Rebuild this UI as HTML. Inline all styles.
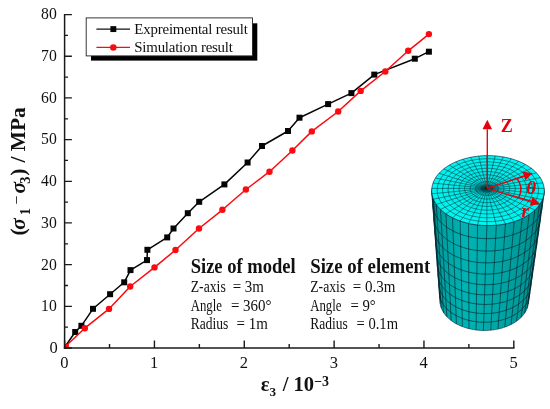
<!DOCTYPE html>
<html><head><meta charset="utf-8"><title>Stress-strain comparison</title>
<style>html,body{margin:0;padding:0;background:#fff}svg{display:block}</style></head>
<body>
<svg width="550" height="409" viewBox="0 0 550 409">
<rect width="550" height="409" fill="#fff"/>
<g font-family="'Liberation Serif',serif" font-size="16.5" fill="#111">
<text x="57.8" y="352.85" text-anchor="end">0</text>
<text x="56.8" y="311.18" text-anchor="end" textLength="15.7" lengthAdjust="spacingAndGlyphs">10</text>
<text x="56.8" y="269.50" text-anchor="end" textLength="15.7" lengthAdjust="spacingAndGlyphs">20</text>
<text x="56.8" y="227.82" text-anchor="end" textLength="15.7" lengthAdjust="spacingAndGlyphs">30</text>
<text x="56.8" y="186.15" text-anchor="end" textLength="15.7" lengthAdjust="spacingAndGlyphs">40</text>
<text x="56.8" y="144.47" text-anchor="end" textLength="15.7" lengthAdjust="spacingAndGlyphs">50</text>
<text x="56.8" y="102.80" text-anchor="end" textLength="15.7" lengthAdjust="spacingAndGlyphs">60</text>
<text x="56.8" y="61.12" text-anchor="end" textLength="15.7" lengthAdjust="spacingAndGlyphs">70</text>
<text x="56.8" y="19.45" text-anchor="end" textLength="15.7" lengthAdjust="spacingAndGlyphs">80</text>
<text x="64.30" y="367.8" text-anchor="middle">0</text>
<text x="154.14" y="367.8" text-anchor="middle">1</text>
<text x="243.98" y="367.8" text-anchor="middle">2</text>
<text x="333.82" y="367.8" text-anchor="middle">3</text>
<text x="423.66" y="367.8" text-anchor="middle">4</text>
<text x="513.50" y="367.8" text-anchor="middle">5</text>
</g>
<text transform="translate(25.2,235.6) rotate(-90)" font-family="'Liberation Serif',serif" font-weight="bold" font-size="21.4" fill="#111"><tspan letter-spacing="0.9">(<tspan font-style="italic" dx="-2.2">σ</tspan><tspan font-size="14.5" dy="4.6" dx="2.2">1</tspan><tspan dy="-7.4" dx="2.2" font-size="16.5" font-weight="normal">−</tspan><tspan font-style="italic" dy="3" dx="1.0">σ</tspan><tspan font-size="14.5" dy="4.6" dx="-2.7">3</tspan><tspan dy="-4.6" dx="-0.2">)</tspan></tspan> / MPa</text>
<text x="260.8" y="391.3" font-family="'Liberation Serif',serif" font-weight="bold" font-size="20.6" fill="#111">ε<tspan font-size="13.2" dy="4.2">3</tspan><tspan dy="-4.2" dx="1.3"> / 10</tspan><tspan font-size="14" dy="-5.2">−3</tspan></text>
<defs>
<linearGradient id="bodyg" gradientUnits="userSpaceOnUse" x1="432" y1="0" x2="545" y2="0"><stop offset="0" stop-color="#006a6a"/><stop offset="0.05" stop-color="#009c9c"/><stop offset="0.3" stop-color="#00b4b4"/><stop offset="0.6" stop-color="#00a6a6"/><stop offset="0.88" stop-color="#009292"/><stop offset="1" stop-color="#007474"/></linearGradient>
<radialGradient id="topg" gradientUnits="userSpaceOnUse" cx="486.9" cy="188.4" r="56" gradientTransform="translate(0,72.1) scale(1,0.617)"><stop offset="0" stop-color="#044"/><stop offset="0.05" stop-color="#0aa"/><stop offset="0.22" stop-color="#00e2e2"/><stop offset="1" stop-color="#00f6f2"/></radialGradient>
</defs>
<path d="M431.69,190.56 L431.80,192.72 L432.13,194.88 L432.67,197.04 L433.43,199.18 L434.41,201.30 L435.60,203.38 L437.02,205.42 L438.64,207.40 L440.47,209.33 L442.51,211.19 L444.74,212.97 L447.16,214.66 L449.76,216.26 L452.53,217.76 L455.46,219.14 L458.54,220.41 L461.76,221.55 L465.10,222.56 L468.55,223.43 L472.10,224.17 L475.72,224.75 L479.41,225.19 L483.14,225.47 L486.90,225.60 L490.67,225.57 L494.43,225.38 L498.16,225.04 L501.85,224.54 L505.48,223.89 L509.03,223.09 L512.49,222.14 L515.83,221.05 L519.04,219.83 L522.12,218.48 L525.03,217.00 L527.78,215.41 L530.34,213.71 L532.71,211.92 L534.88,210.03 L536.84,208.07 L538.58,206.03 L540.10,203.93 L541.39,201.79 L542.44,199.60 L543.27,197.38 L543.85,195.14 L544.20,192.89 L544.32,190.64 L528.54,301.04 L528.45,302.94 L528.18,304.83 L527.72,306.72 L527.07,308.59 L526.24,310.43 L525.23,312.24 L524.03,314.01 L522.67,315.72 L521.13,317.38 L519.42,318.97 L517.55,320.48 L515.54,321.91 L513.38,323.26 L511.09,324.50 L508.67,325.64 L506.15,326.67 L503.52,327.59 L500.80,328.38 L498.01,329.06 L495.16,329.61 L492.26,330.03 L489.32,330.32 L486.36,330.47 L483.40,330.50 L480.44,330.39 L477.51,330.15 L474.61,329.79 L471.76,329.29 L468.98,328.68 L466.26,327.94 L463.64,327.09 L461.10,326.13 L458.68,325.06 L456.38,323.89 L454.20,322.63 L452.15,321.28 L450.25,319.86 L448.50,318.36 L446.90,316.79 L445.46,315.17 L444.18,313.49 L443.07,311.77 L442.13,310.02 L441.36,308.24 L440.76,306.43 L440.33,304.61 L440.08,302.79 L440.00,300.97 Z" fill="url(#bodyg)" stroke="#013" stroke-width="0.5"/>
<path d="M432.73,204.31 L432.91,207.14 L433.48,209.97 L434.42,212.77 L435.74,215.53 L437.43,218.22 L439.49,220.83 L441.91,223.34 L444.68,225.71 L447.78,227.95 L451.19,230.01 L454.89,231.90 L458.86,233.58 L463.07,235.05 L467.48,236.28 L472.06,237.27 L476.78,238.00 L481.59,238.47 L486.46,238.67 L491.35,238.59 L496.22,238.25 L501.02,237.63 L505.71,236.75 L510.26,235.61 L514.62,234.21 L518.77,232.59 L522.65,230.74 L526.25,228.68 L529.54,226.44 L532.49,224.03 L535.07,221.48 L537.29,218.81 L539.11,216.03 L540.53,213.18 L541.54,210.27 L542.15,207.34 L542.35,204.40 M433.71,217.38 L433.89,220.16 L434.44,222.93 L435.36,225.68 L436.64,228.39 L438.29,231.03 L440.30,233.59 L442.65,236.05 L445.35,238.38 L448.37,240.57 L451.69,242.60 L455.30,244.44 L459.16,246.10 L463.26,247.53 L467.56,248.74 L472.02,249.71 L476.61,250.43 L481.30,250.89 L486.05,251.09 L490.81,251.01 L495.55,250.67 L500.23,250.07 L504.80,249.20 L509.23,248.08 L513.48,246.72 L517.51,245.12 L521.30,243.30 L524.80,241.29 L528.00,239.09 L530.88,236.73 L533.40,234.23 L535.55,231.60 L537.32,228.88 L538.71,226.08 L539.70,223.23 L540.29,220.35 L540.49,217.47 M434.64,229.80 L434.82,232.52 L435.35,235.25 L436.25,237.94 L437.50,240.60 L439.11,243.19 L441.06,245.71 L443.36,248.12 L445.99,250.41 L448.93,252.56 L452.17,254.55 L455.69,256.36 L459.45,257.98 L463.44,259.39 L467.63,260.58 L471.98,261.53 L476.46,262.24 L481.03,262.69 L485.66,262.88 L490.30,262.81 L494.92,262.48 L499.47,261.88 L503.93,261.03 L508.25,259.93 L512.39,258.59 L516.32,257.03 L520.01,255.25 L523.43,253.27 L526.55,251.11 L529.35,248.79 L531.80,246.33 L533.90,243.76 L535.63,241.08 L536.98,238.34 L537.94,235.54 L538.52,232.71 L538.71,229.88 M435.53,241.60 L435.70,244.27 L436.22,246.94 L437.09,249.59 L438.32,252.20 L439.88,254.75 L441.79,257.22 L444.03,259.59 L446.60,261.84 L449.47,263.95 L452.62,265.91 L456.05,267.69 L459.73,269.28 L463.62,270.66 L467.70,271.83 L471.95,272.76 L476.31,273.46 L480.77,273.90 L485.28,274.09 L489.81,274.02 L494.31,273.69 L498.76,273.11 L503.10,272.27 L507.31,271.19 L511.35,269.88 L515.19,268.34 L518.79,266.59 L522.12,264.64 L525.16,262.53 L527.89,260.25 L530.29,257.83 L532.34,255.30 L534.02,252.68 L535.34,249.98 L536.28,247.23 L536.84,244.46 L537.03,241.68 M436.37,252.80 L436.54,255.43 L437.05,258.06 L437.90,260.66 L439.09,263.23 L440.62,265.73 L442.48,268.16 L444.67,270.48 L447.17,272.70 L449.97,274.77 L453.06,276.69 L456.40,278.44 L459.99,280.01 L463.79,281.37 L467.77,282.52 L471.91,283.43 L476.17,284.11 L480.52,284.55 L484.93,284.74 L489.35,284.67 L493.74,284.35 L498.08,283.77 L502.32,282.95 L506.43,281.89 L510.37,280.60 L514.11,279.08 L517.62,277.36 L520.88,275.45 L523.85,273.37 L526.51,271.13 L528.85,268.76 L530.85,266.27 L532.49,263.69 L533.78,261.04 L534.69,258.34 L535.24,255.61 L535.43,252.88 M437.17,263.45 L437.34,266.03 L437.83,268.62 L438.66,271.18 L439.83,273.70 L441.32,276.16 L443.14,278.55 L445.28,280.84 L447.72,283.01 L450.45,285.05 L453.47,286.94 L456.73,288.66 L460.23,290.20 L463.94,291.54 L467.84,292.67 L471.88,293.57 L476.04,294.24 L480.29,294.67 L484.59,294.85 L488.90,294.78 L493.20,294.47 L497.43,293.90 L501.57,293.10 L505.59,292.05 L509.44,290.78 L513.09,289.29 L516.52,287.60 L519.70,285.72 L522.60,283.67 L525.20,281.47 L527.48,279.14 L529.43,276.70 L531.04,274.16 L532.29,271.55 L533.19,268.90 L533.73,266.21 L533.90,263.52 M437.93,273.56 L438.10,276.11 L438.58,278.65 L439.39,281.17 L440.53,283.65 L441.99,286.07 L443.77,288.42 L445.85,290.67 L448.24,292.81 L450.91,294.82 L453.85,296.68 L457.05,298.37 L460.47,299.88 L464.09,301.20 L467.90,302.31 L471.85,303.20 L475.92,303.86 L480.07,304.28 L484.27,304.46 L488.49,304.39 L492.68,304.08 L496.82,303.53 L500.87,302.73 L504.79,301.71 L508.55,300.45 L512.12,298.99 L515.47,297.33 L518.58,295.48 L521.41,293.46 L523.95,291.30 L526.18,289.00 L528.09,286.60 L529.66,284.10 L530.89,281.53 L531.76,278.92 L532.29,276.28 L532.46,273.64 M438.66,283.17 L438.81,285.67 L439.29,288.18 L440.08,290.66 L441.19,293.10 L442.62,295.48 L444.36,297.80 L446.40,300.01 L448.73,302.12 L451.35,304.10 L454.22,305.93 L457.35,307.59 L460.69,309.08 L464.24,310.38 L467.96,311.47 L471.82,312.35 L475.80,313.00 L479.86,313.41 L483.96,313.59 L488.09,313.52 L492.19,313.22 L496.24,312.67 L500.19,311.89 L504.03,310.88 L507.71,309.64 L511.20,308.20 L514.48,306.57 L517.51,304.75 L520.28,302.76 L522.77,300.63 L524.95,298.37 L526.81,296.00 L528.35,293.54 L529.55,291.02 L530.40,288.45 L530.92,285.85 L531.09,283.24 M439.34,292.30 L439.50,294.76 L439.96,297.23 L440.74,299.67 L441.82,302.08 L443.22,304.43 L444.92,306.70 L446.92,308.89 L449.20,310.96 L451.76,312.91 L454.58,314.71 L457.63,316.36 L460.90,317.82 L464.37,319.10 L468.01,320.18 L471.79,321.04 L475.68,321.68 L479.65,322.09 L483.67,322.26 L487.71,322.20 L491.72,321.90 L495.68,321.36 L499.56,320.59 L503.31,319.59 L506.91,318.38 L510.32,316.96 L513.53,315.34 L516.50,313.55 L519.21,311.60 L521.64,309.50 L523.78,307.27 L525.60,304.94 L527.10,302.52 L528.28,300.03 L529.11,297.50 L529.62,294.94 L529.78,292.37 M431.80,188.40 L440.08,299.15 M431.94,193.80 L440.19,303.70 M433.43,199.18 L441.36,308.24 M436.28,204.40 L443.60,312.64 M440.47,209.33 L446.90,316.79 M445.92,213.83 L451.18,320.58 M452.53,217.76 L456.38,323.89 M460.14,220.99 L462.36,326.62 M468.55,223.43 L468.98,328.68 M477.56,224.99 L476.06,329.99 M486.90,225.60 L483.40,330.50 M496.30,225.23 L490.79,330.19 M505.48,223.89 L498.01,329.06 M514.17,221.61 L504.84,327.14 M522.12,218.48 L511.09,324.50 M529.08,214.57 L516.57,321.21 M534.88,210.03 L521.13,317.38 M539.37,204.99 L524.65,313.13 M542.44,199.60 L527.07,308.59 M544.06,194.02 L528.34,303.88 M544.20,188.40 L528.45,299.15" fill="none" stroke="#00252c" stroke-opacity="0.85" stroke-width="0.75"/>
<path d="M544.20,188.40 L543.66,185.32 L542.70,182.30 L541.31,179.35 L539.53,176.51 L537.37,173.80 L534.86,171.22 L532.02,168.80 L528.87,166.55 L525.45,164.48 L521.77,162.61 L517.88,160.95 L513.79,159.50 L509.54,158.27 L505.16,157.27 L500.67,156.50 L496.12,155.97 L491.52,155.66 L486.90,155.60 L482.30,155.77 L477.74,156.17 L473.26,156.80 L468.87,157.66 L464.61,158.74 L460.50,160.03 L456.58,161.53 L452.85,163.22 L449.36,165.11 L446.12,167.17 L443.16,169.39 L440.49,171.77 L438.14,174.29 L436.13,176.93 L434.48,179.68 L433.20,182.52 L432.30,185.44 L431.80,188.40 L431.71,191.40 L432.03,194.40 L432.78,197.40 L433.95,200.36 L435.53,203.26 L437.53,206.09 L439.94,208.80 L442.74,211.39 L445.92,213.83 L449.46,216.09 L453.33,218.15 L457.50,220.00 L461.94,221.61 L466.62,222.97 L471.50,224.05 L476.54,224.86 L481.69,225.38 L486.90,225.60 L492.13,225.51 L497.34,225.13 L502.46,224.44 L507.47,223.46 L512.30,222.20 L516.92,220.66 L521.28,218.87 L525.35,216.83 L529.08,214.57 L532.46,212.12 L535.45,209.49 L538.03,206.72 L540.18,203.82 L541.89,200.82 L543.14,197.75 L543.95,194.64 L544.30,191.52 L544.20,188.40 Z" fill="url(#topg)" stroke="#013" stroke-width="0.6"/>
<path d="M492.53,188.40 L492.49,188.04 L492.40,187.67 L492.24,187.32 L492.03,186.98 L491.76,186.66 L491.44,186.36 L491.06,186.07 L490.65,185.82 L490.19,185.59 L489.70,185.39 L489.17,185.23 L488.63,185.10 L488.06,185.01 L487.48,184.95 L486.90,184.94 L486.32,184.96 L485.74,185.01 L485.18,185.11 L484.63,185.24 L484.11,185.40 L483.62,185.60 L483.16,185.82 L482.75,186.08 L482.38,186.36 L482.06,186.67 L481.79,186.99 L481.58,187.33 L481.42,187.68 L481.33,188.04 L481.29,188.40 L481.32,188.76 L481.41,189.12 L481.56,189.48 L481.76,189.82 L482.03,190.15 L482.35,190.45 L482.71,190.74 L483.13,191.00 L483.58,191.23 L484.08,191.43 L484.60,191.60 L485.15,191.73 L485.73,191.83 L486.31,191.89 L486.90,191.91 L487.49,191.89 L488.08,191.83 L488.65,191.74 L489.20,191.61 L489.73,191.44 L490.22,191.24 L490.68,191.01 L491.10,190.75 L491.47,190.46 L491.79,190.15 L492.05,189.82 L492.26,189.48 L492.41,189.13 L492.50,188.77 L492.53,188.40 Z M498.18,188.40 L498.10,187.67 L497.90,186.95 L497.58,186.25 L497.15,185.57 L496.60,184.92 L495.95,184.32 L495.20,183.76 L494.37,183.25 L493.45,182.80 L492.47,182.42 L491.43,182.09 L490.34,181.84 L489.21,181.66 L488.06,181.55 L486.90,181.51 L485.74,181.55 L484.59,181.67 L483.47,181.86 L482.39,182.11 L481.35,182.44 L480.38,182.83 L479.47,183.28 L478.64,183.79 L477.90,184.34 L477.26,184.95 L476.72,185.59 L476.29,186.26 L475.98,186.96 L475.78,187.68 L475.71,188.40 L475.75,189.13 L475.92,189.85 L476.21,190.55 L476.62,191.24 L477.14,191.90 L477.77,192.52 L478.50,193.09 L479.33,193.62 L480.24,194.09 L481.23,194.49 L482.28,194.83 L483.39,195.10 L484.54,195.30 L485.71,195.42 L486.90,195.46 L488.09,195.42 L489.27,195.31 L490.42,195.12 L491.53,194.85 L492.59,194.52 L493.59,194.11 L494.51,193.64 L495.35,193.12 L496.09,192.54 L496.73,191.92 L497.25,191.26 L497.67,190.57 L497.96,189.86 L498.13,189.13 L498.18,188.40 Z M503.85,188.40 L503.73,187.30 L503.42,186.22 L502.93,185.17 L502.26,184.16 L501.43,183.19 L500.45,182.29 L499.32,181.46 L498.07,180.71 L496.69,180.04 L495.22,179.46 L493.66,178.99 L492.03,178.61 L490.34,178.34 L488.63,178.18 L486.90,178.14 L485.17,178.20 L483.46,178.37 L481.79,178.65 L480.18,179.03 L478.63,179.51 L477.18,180.09 L475.82,180.77 L474.58,181.52 L473.48,182.35 L472.51,183.25 L471.70,184.20 L471.05,185.20 L470.57,186.25 L470.27,187.32 L470.14,188.40 L470.20,189.49 L470.44,190.57 L470.87,191.63 L471.47,192.66 L472.24,193.65 L473.18,194.59 L474.27,195.46 L475.51,196.25 L476.88,196.96 L478.36,197.58 L479.94,198.10 L481.61,198.51 L483.33,198.81 L485.11,198.99 L486.90,199.06 L488.70,199.01 L490.47,198.83 L492.21,198.55 L493.89,198.14 L495.49,197.63 L497.00,197.02 L498.38,196.31 L499.64,195.52 L500.75,194.65 L501.71,193.71 L502.50,192.71 L503.11,191.67 L503.55,190.60 L503.79,189.50 L503.85,188.40 Z M509.55,188.40 L509.37,186.93 L508.93,185.49 L508.27,184.09 L507.37,182.75 L506.25,181.47 L504.93,180.27 L503.42,179.17 L501.74,178.17 L499.90,177.29 L497.94,176.54 L495.86,175.91 L493.70,175.42 L491.47,175.07 L489.19,174.86 L486.90,174.80 L484.61,174.88 L482.35,175.11 L480.13,175.48 L477.99,175.99 L475.95,176.63 L474.01,177.39 L472.21,178.28 L470.57,179.28 L469.10,180.37 L467.81,181.56 L466.72,182.83 L465.85,184.16 L465.20,185.54 L464.78,186.96 L464.60,188.40 L464.67,189.85 L464.97,191.29 L465.52,192.71 L466.31,194.09 L467.33,195.41 L468.57,196.67 L470.01,197.83 L471.66,198.90 L473.48,199.86 L475.46,200.70 L477.58,201.40 L479.80,201.95 L482.12,202.36 L484.49,202.61 L486.90,202.70 L489.31,202.63 L491.70,202.41 L494.03,202.02 L496.29,201.48 L498.43,200.79 L500.45,199.97 L502.31,199.02 L503.99,197.95 L505.47,196.77 L506.75,195.51 L507.79,194.17 L508.60,192.78 L509.17,191.34 L509.48,189.87 L509.55,188.40 Z M515.27,188.40 L515.02,186.57 L514.46,184.76 L513.60,183.02 L512.46,181.34 L511.05,179.75 L509.39,178.26 L507.49,176.89 L505.39,175.66 L503.09,174.57 L500.64,173.63 L498.05,172.86 L495.35,172.26 L492.58,171.83 L489.75,171.57 L486.90,171.50 L484.06,171.61 L481.24,171.89 L478.50,172.35 L475.84,172.98 L473.29,173.77 L470.89,174.72 L468.65,175.82 L466.60,177.06 L464.76,178.42 L463.15,179.89 L461.78,181.46 L460.68,183.11 L459.86,184.83 L459.32,186.60 L459.08,188.40 L459.14,190.21 L459.51,192.01 L460.17,193.79 L461.14,195.52 L462.40,197.18 L463.93,198.75 L465.73,200.23 L467.78,201.57 L470.06,202.78 L472.53,203.84 L475.19,204.73 L477.98,205.43 L480.89,205.95 L483.87,206.27 L486.90,206.40 L489.93,206.31 L492.94,206.03 L495.88,205.54 L498.71,204.86 L501.41,204.00 L503.94,202.95 L506.28,201.75 L508.38,200.40 L510.24,198.92 L511.83,197.33 L513.13,195.65 L514.13,193.89 L514.83,192.08 L515.20,190.25 L515.27,188.40 Z M521.01,188.40 L520.69,186.20 L519.99,184.04 L518.94,181.94 L517.55,179.93 L515.84,178.03 L513.83,176.26 L511.54,174.63 L509.01,173.16 L506.26,171.87 L503.31,170.76 L500.22,169.84 L496.99,169.13 L493.68,168.62 L490.30,168.33 L486.90,168.24 L483.51,168.37 L480.16,168.71 L476.88,169.26 L473.71,170.01 L470.67,170.96 L467.80,172.09 L465.13,173.39 L462.67,174.86 L460.47,176.48 L458.53,178.24 L456.89,180.11 L455.56,182.08 L454.55,184.13 L453.89,186.25 L453.58,188.40 L453.63,190.57 L454.05,192.73 L454.83,194.87 L455.96,196.95 L457.45,198.95 L459.28,200.85 L461.43,202.63 L463.88,204.26 L466.61,205.73 L469.58,207.01 L472.77,208.09 L476.14,208.95 L479.64,209.59 L483.24,209.98 L486.90,210.13 L490.57,210.04 L494.19,209.70 L497.74,209.11 L501.17,208.29 L504.43,207.24 L507.48,205.98 L510.29,204.52 L512.83,202.89 L515.06,201.10 L516.96,199.17 L518.52,197.14 L519.71,195.01 L520.52,192.83 L520.96,190.62 L521.01,188.40 Z M526.77,188.40 L526.37,185.83 L525.53,183.30 L524.28,180.86 L522.64,178.53 L520.62,176.32 L518.25,174.27 L515.57,172.38 L512.61,170.68 L509.40,169.19 L505.97,167.91 L502.36,166.85 L498.61,166.03 L494.76,165.45 L490.84,165.12 L486.90,165.03 L482.97,165.18 L479.08,165.58 L475.28,166.21 L471.60,167.08 L468.08,168.18 L464.75,169.48 L461.64,170.99 L458.79,172.69 L456.22,174.57 L453.96,176.60 L452.03,178.77 L450.47,181.05 L449.28,183.44 L448.49,185.89 L448.11,188.40 L448.14,190.93 L448.60,193.45 L449.48,195.94 L450.78,198.38 L452.50,200.73 L454.61,202.96 L457.10,205.05 L459.95,206.97 L463.13,208.70 L466.60,210.21 L470.33,211.49 L474.27,212.51 L478.38,213.27 L482.61,213.74 L486.90,213.92 L491.21,213.82 L495.47,213.42 L499.64,212.73 L503.66,211.76 L507.49,210.53 L511.07,209.04 L514.36,207.33 L517.33,205.40 L519.94,203.29 L522.15,201.03 L523.95,198.64 L525.32,196.15 L526.25,193.59 L526.74,191.00 L526.77,188.40 Z M532.56,188.40 L532.06,185.45 L531.08,182.57 L529.62,179.79 L527.71,177.13 L525.38,174.62 L522.66,172.28 L519.58,170.14 L516.19,168.22 L512.51,166.53 L508.60,165.08 L504.49,163.89 L500.22,162.97 L495.83,162.32 L491.38,161.94 L486.90,161.85 L482.43,162.03 L478.02,162.48 L473.71,163.20 L469.53,164.19 L465.53,165.43 L461.74,166.91 L458.20,168.62 L454.95,170.55 L452.01,172.67 L449.43,174.98 L447.22,177.44 L445.42,180.04 L444.04,182.75 L443.11,185.54 L442.65,188.40 L442.66,191.29 L443.15,194.17 L444.13,197.02 L445.59,199.81 L447.52,202.51 L449.92,205.07 L452.75,207.48 L456.00,209.70 L459.63,211.69 L463.60,213.45 L467.87,214.93 L472.39,216.11 L477.11,216.99 L481.96,217.54 L486.90,217.76 L491.85,217.64 L496.76,217.19 L501.56,216.40 L506.19,215.28 L510.59,213.86 L514.70,212.15 L518.48,210.17 L521.88,207.95 L524.86,205.51 L527.39,202.91 L529.44,200.15 L530.99,197.29 L532.03,194.35 L532.55,191.38 L532.56,188.40 Z M538.37,188.40 L537.78,185.08 L536.63,181.84 L534.95,178.71 L532.78,175.73 L530.13,172.91 L527.04,170.30 L523.57,167.91 L519.74,165.77 L515.60,163.88 L511.21,162.28 L506.59,160.96 L501.80,159.94 L496.90,159.22 L491.91,158.81 L486.90,158.70 L481.90,158.91 L476.97,159.42 L472.15,160.23 L467.48,161.33 L463.00,162.71 L458.76,164.37 L454.79,166.28 L451.15,168.42 L447.85,170.79 L444.94,173.37 L442.45,176.12 L440.40,179.03 L438.84,182.06 L437.77,185.20 L437.21,188.40 L437.19,191.64 L437.71,194.89 L438.78,198.10 L440.39,201.25 L442.54,204.29 L445.20,207.20 L448.37,209.93 L452.01,212.44 L456.09,214.71 L460.56,216.71 L465.38,218.40 L470.48,219.75 L475.82,220.76 L481.31,221.40 L486.90,221.65 L492.51,221.53 L498.07,221.01 L503.51,220.12 L508.75,218.85 L513.73,217.24 L518.39,215.29 L522.66,213.04 L526.49,210.52 L529.85,207.76 L532.68,204.80 L534.97,201.68 L536.69,198.44 L537.83,195.12 L538.39,191.76 L538.37,188.40 Z M486.90,188.40 L544.20,188.40 M486.90,188.40 L542.92,182.89 M486.90,188.40 L540.29,177.64 M486.90,188.40 L536.41,172.75 M486.90,188.40 L531.41,168.33 M486.90,188.40 L525.45,164.48 M486.90,188.40 L518.67,161.26 M486.90,188.40 L511.26,158.74 M486.90,188.40 L503.38,156.93 M486.90,188.40 L495.20,155.89 M486.90,188.40 L486.90,155.60 M486.90,188.40 L478.65,156.07 M486.90,188.40 L470.61,157.29 M486.90,188.40 L462.95,159.23 M486.90,188.40 L455.82,161.85 M486.90,188.40 L449.36,165.11 M486.90,188.40 L443.73,168.94 M486.90,188.40 L439.04,173.27 M486.90,188.40 L435.43,178.02 M486.90,188.40 L432.99,183.10 M486.90,188.40 L431.80,188.40 M486.90,188.40 L431.94,193.80 M486.90,188.40 L433.43,199.18 M486.90,188.40 L436.28,204.40 M486.90,188.40 L440.47,209.33 M486.90,188.40 L445.92,213.83 M486.90,188.40 L452.53,217.76 M486.90,188.40 L460.14,220.99 M486.90,188.40 L468.55,223.43 M486.90,188.40 L477.56,224.99 M486.90,188.40 L486.90,225.60 M486.90,188.40 L496.30,225.23 M486.90,188.40 L505.48,223.89 M486.90,188.40 L514.17,221.61 M486.90,188.40 L522.12,218.48 M486.90,188.40 L529.08,214.57 M486.90,188.40 L534.88,210.03 M486.90,188.40 L539.37,204.99 M486.90,188.40 L542.44,199.60 M486.90,188.40 L544.06,194.02" fill="none" stroke="#00282e" stroke-opacity="0.85" stroke-width="0.6"/>
<line x1="487.30" y1="188.40" x2="487.30" y2="129.20" stroke="#e6000c" stroke-width="1.35"/><polygon points="487.30,119.80 492.10,129.20 482.50,129.20" fill="#e6000c"/>
<line x1="486.90" y1="188.40" x2="523.89" y2="175.99" stroke="#e6000c" stroke-width="1.4"/><polygon points="532.80,173.00 525.35,180.35 522.43,171.63" fill="#e6000c"/>
<line x1="486.90" y1="188.40" x2="531.17" y2="201.28" stroke="#e6000c" stroke-width="1.4"/><polygon points="540.20,203.90 529.89,205.69 532.46,196.86" fill="#e6000c"/>
<path d="M517.0,178.2 Q523.6,187.2 519.0,197.0" fill="none" stroke="#e6000c" stroke-width="1.4"/>
<text x="500.8" y="132.3" font-family="'Liberation Serif',serif" font-weight="bold" font-size="18" fill="#e6000c">Z</text>
<text x="526.3" y="194.2" font-family="'Liberation Serif',serif" font-weight="bold" font-style="italic" font-size="19" fill="#e6000c">θ</text>
<text x="521.5" y="216.5" font-family="'Liberation Serif',serif" font-weight="bold" font-style="italic" font-size="19" fill="#e6000c">r</text>
<g font-family="'Liberation Serif',serif" fill="#111">
<text x="190.7" y="272.9" font-weight="bold" font-size="20.7" textLength="105" lengthAdjust="spacingAndGlyphs">Size of model</text>
<text x="310.2" y="272.9" font-weight="bold" font-size="20.7" textLength="120" lengthAdjust="spacingAndGlyphs">Size of element</text>
<g font-size="16.8">
<text y="292.1"><tspan x="190.7" textLength="35.1" lengthAdjust="spacingAndGlyphs">Z-axis</tspan> <tspan x="232.7" textLength="31.3" lengthAdjust="spacingAndGlyphs">= 3m</tspan></text>
<text y="310.7"><tspan x="190.7" textLength="31.3" lengthAdjust="spacingAndGlyphs">Angle</tspan> <tspan x="230.9" textLength="40.7" lengthAdjust="spacingAndGlyphs">= 360°</tspan></text>
<text y="329.2"><tspan x="190.7" textLength="37.7" lengthAdjust="spacingAndGlyphs">Radius</tspan> <tspan x="236.5" textLength="31.3" lengthAdjust="spacingAndGlyphs">= 1m</tspan></text>
<text y="292.1"><tspan x="310.2" textLength="35.1" lengthAdjust="spacingAndGlyphs">Z-axis</tspan> <tspan x="352.7" textLength="42.7" lengthAdjust="spacingAndGlyphs">= 0.3m</tspan></text>
<text y="310.7"><tspan x="310.2" textLength="31.3" lengthAdjust="spacingAndGlyphs">Angle</tspan> <tspan x="350.4" textLength="25.4" lengthAdjust="spacingAndGlyphs">= 9°</tspan></text>
<text y="329.2"><tspan x="310.2" textLength="37.6" lengthAdjust="spacingAndGlyphs">Radius</tspan> <tspan x="356.5" textLength="41.5" lengthAdjust="spacingAndGlyphs">= 0.1m</tspan></text>
</g></g>
<clipPath id="plotclip"><rect x="64.6" y="0" width="500" height="348.0"/></clipPath><g clip-path="url(#plotclip)">
<polyline points="64.8,347.0 75.2,332.0 81.4,325.8 93.0,308.8 110.1,294.2 124.2,282.3 130.5,270.1 147.0,260.1 147.4,249.8 167.2,237.4 173.5,228.5 187.8,213.2 199.2,201.8 224.4,184.4 247.6,162.5 262.0,146.0 288.0,131.0 299.5,117.7 328.1,104.1 351.4,93.1 374.3,74.6 414.8,58.7 428.9,51.7" fill="none" stroke="#050505" stroke-width="1.5" stroke-linejoin="round"/>
<rect x="61.8" y="344.0" width="6" height="6" fill="#050505"/>
<rect x="72.2" y="329.0" width="6" height="6" fill="#050505"/>
<rect x="78.4" y="322.8" width="6" height="6" fill="#050505"/>
<rect x="90.0" y="305.8" width="6" height="6" fill="#050505"/>
<rect x="107.1" y="291.2" width="6" height="6" fill="#050505"/>
<rect x="121.2" y="279.3" width="6" height="6" fill="#050505"/>
<rect x="127.5" y="267.1" width="6" height="6" fill="#050505"/>
<rect x="144.0" y="257.1" width="6" height="6" fill="#050505"/>
<rect x="144.4" y="246.8" width="6" height="6" fill="#050505"/>
<rect x="164.2" y="234.4" width="6" height="6" fill="#050505"/>
<rect x="170.5" y="225.5" width="6" height="6" fill="#050505"/>
<rect x="184.8" y="210.2" width="6" height="6" fill="#050505"/>
<rect x="196.2" y="198.8" width="6" height="6" fill="#050505"/>
<rect x="221.4" y="181.4" width="6" height="6" fill="#050505"/>
<rect x="244.6" y="159.5" width="6" height="6" fill="#050505"/>
<rect x="259.0" y="143.0" width="6" height="6" fill="#050505"/>
<rect x="285.0" y="128.0" width="6" height="6" fill="#050505"/>
<rect x="296.5" y="114.7" width="6" height="6" fill="#050505"/>
<rect x="325.1" y="101.1" width="6" height="6" fill="#050505"/>
<rect x="348.4" y="90.1" width="6" height="6" fill="#050505"/>
<rect x="371.3" y="71.6" width="6" height="6" fill="#050505"/>
<rect x="411.8" y="55.7" width="6" height="6" fill="#050505"/>
<rect x="425.9" y="48.7" width="6" height="6" fill="#050505"/>
<polyline points="64.8,347.0 84.8,328.2 109.0,308.9 130.2,286.5 154.5,267.4 175.5,250.0 199.0,228.5 222.4,209.8 245.9,189.5 269.5,171.7 292.4,150.5 311.8,131.4 338.2,111.5 360.7,90.9 385.3,71.5 408.2,50.8 428.9,34.1" fill="none" stroke="#fb0a10" stroke-width="1.5" stroke-linejoin="round"/>
<rect x="64.6" y="344.1" width="4.3" height="3.9" rx="0.8" fill="#fb0a10"/>
<circle cx="64.8" cy="347.0" r="3.2" fill="#fb0a10"/>
<circle cx="84.8" cy="328.2" r="3.2" fill="#fb0a10"/>
<circle cx="109.0" cy="308.9" r="3.2" fill="#fb0a10"/>
<circle cx="130.2" cy="286.5" r="3.2" fill="#fb0a10"/>
<circle cx="154.5" cy="267.4" r="3.2" fill="#fb0a10"/>
<circle cx="175.5" cy="250.0" r="3.2" fill="#fb0a10"/>
<circle cx="199.0" cy="228.5" r="3.2" fill="#fb0a10"/>
<circle cx="222.4" cy="209.8" r="3.2" fill="#fb0a10"/>
<circle cx="245.9" cy="189.5" r="3.2" fill="#fb0a10"/>
<circle cx="269.5" cy="171.7" r="3.2" fill="#fb0a10"/>
<circle cx="292.4" cy="150.5" r="3.2" fill="#fb0a10"/>
<circle cx="311.8" cy="131.4" r="3.2" fill="#fb0a10"/>
<circle cx="338.2" cy="111.5" r="3.2" fill="#fb0a10"/>
<circle cx="360.7" cy="90.9" r="3.2" fill="#fb0a10"/>
<circle cx="385.3" cy="71.5" r="3.2" fill="#fb0a10"/>
<circle cx="408.2" cy="50.8" r="3.2" fill="#fb0a10"/>
<circle cx="428.9" cy="34.1" r="3.2" fill="#fb0a10"/>
</g>
<path d="M64.60,13.95 V348.90" stroke="#1a1a1a" stroke-width="1.5" fill="none"/>
<path d="M63.85,348.00 H514.50" stroke="#1a1a1a" stroke-width="1.65" fill="none"/>
<path d="M64.60,348.00 h7.3 M64.60,327.16 h3.4 M64.60,306.32 h7.3 M64.60,285.49 h3.4 M64.60,264.65 h7.3 M64.60,243.81 h3.4 M64.60,222.97 h7.3 M64.60,202.14 h3.4 M64.60,181.30 h7.3 M64.60,160.46 h3.4 M64.60,139.62 h7.3 M64.60,118.79 h3.4 M64.60,97.95 h7.3 M64.60,77.11 h3.4 M64.60,56.27 h7.3 M64.60,35.44 h3.4 M64.60,14.60 h7.3" stroke="#1a1a1a" stroke-width="1.3" fill="none"/>
<path d="M64.60,348.00 v-7.6 M109.52,348.00 v-4.0 M154.44,348.00 v-7.6 M199.36,348.00 v-4.0 M244.28,348.00 v-7.6 M289.20,348.00 v-4.0 M334.12,348.00 v-7.6 M379.04,348.00 v-4.0 M423.96,348.00 v-7.6 M468.88,348.00 v-4.0 M513.80,348.00 v-7.6" stroke="#1a1a1a" stroke-width="1.4" fill="none"/>
<rect x="91" y="23.3" width="166.3" height="37.3" fill="#000"/>
<rect x="86.2" y="17.9" width="166.3" height="38.0" fill="#fff" stroke="#222" stroke-width="0.9"/>
<line x1="96.4" y1="29.1" x2="130" y2="29.1" stroke="#111" stroke-width="1.4"/>
<rect x="110.4" y="26.15" width="5.9" height="5.9" fill="#050505"/>
<line x1="96.4" y1="47.4" x2="130" y2="47.4" stroke="#fb0a10" stroke-width="1.4"/>
<circle cx="113.3" cy="47.4" r="3.25" fill="#fb0a10"/>
<g font-family="'Liberation Serif',serif" font-size="14.9" fill="#111">
<text x="134.3" y="33.8" textLength="113.6" lengthAdjust="spacing">Expreimental result</text>
<text x="134.3" y="51.9" textLength="98.6" lengthAdjust="spacing">Simulation result</text>
</g>
</svg>
</body></html>
